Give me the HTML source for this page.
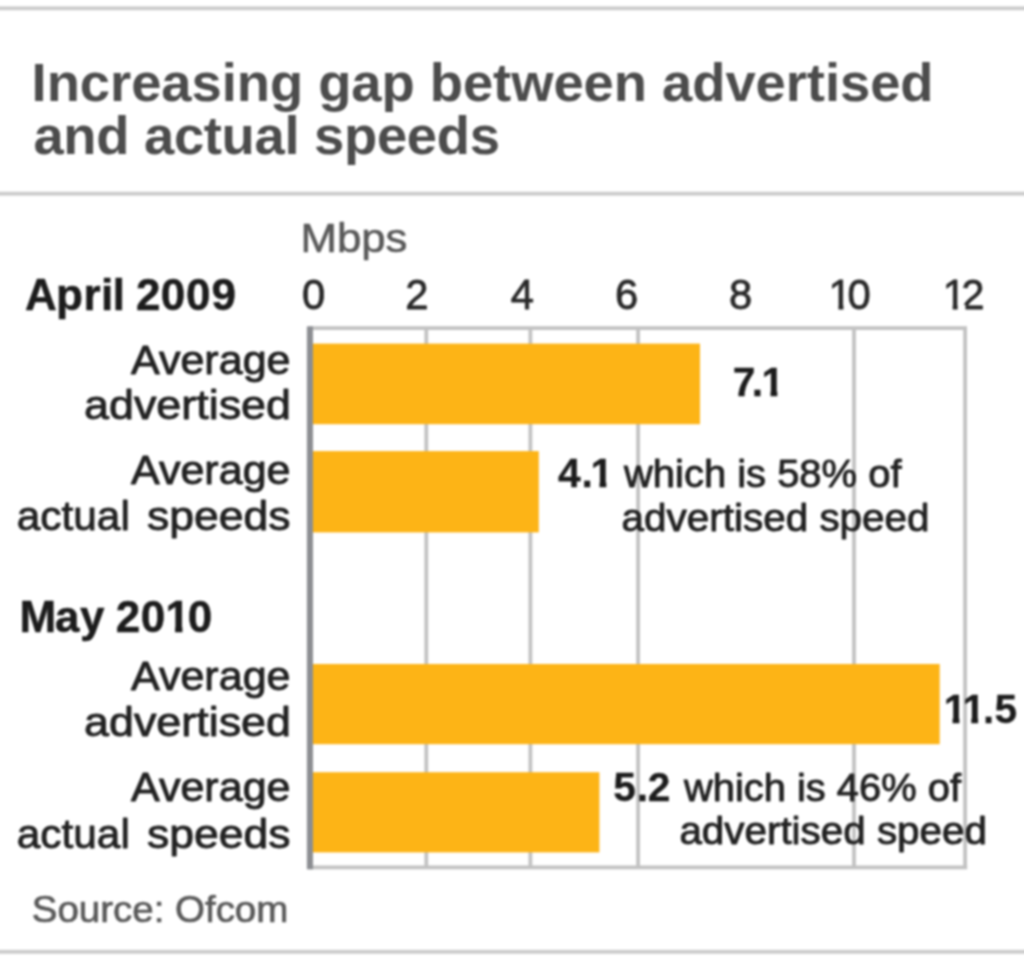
<!DOCTYPE html>
<html>
<head>
<meta charset="utf-8">
<title>Increasing gap between advertised and actual speeds</title>
<style>
html,body{margin:0;padding:0;background:#fff;}
body{width:1024px;height:960px;overflow:hidden;position:relative;}
svg{position:absolute;left:-40px;top:-40px;display:block;filter:blur(1.3px);}
text{font-family:"Liberation Sans",Arial,Helvetica,sans-serif;paint-order:stroke;stroke-linejoin:round;}
.t{font-weight:bold;font-size:54.4px;fill:#4c4c4c;stroke:none;}
.m{font-size:40.8px;fill:#595959;stroke:#595959;stroke-width:0.6px;}
.s{font-size:36.3px;fill:#595959;stroke:#595959;stroke-width:0.7px;}
.n{font-size:41.8px;fill:#282828;stroke:#282828;stroke-width:0.8px;}
.l{font-size:40.6px;fill:#222;stroke:#222;stroke-width:0.9px;}
.a{font-size:38.8px;fill:#222;stroke:#222;stroke-width:0.9px;}
.b{font-size:44px;font-weight:bold;fill:#1c1c1c;stroke:#1c1c1c;stroke-width:0.5px;}
.ab{font-size:40.8px;font-weight:bold;fill:#1c1c1c;stroke:#1c1c1c;stroke-width:0.3px;}
</style>
</head>
<body>
<svg width="1104" height="1040" viewBox="-40 -40 1104 1040">
<defs>
<clipPath id="c1"><rect x="9.5" y="584" width="232.2" height="42.6"/><rect x="9.5" y="626.1" width="157.2" height="17.6"/><rect x="175.1" y="626.1" width="7.3" height="17.6"/><rect x="190.1" y="626.1" width="51.5" height="17.6"/></clipPath>
<clipPath id="c2"><rect x="722.7" y="351.3" width="89.7" height="39.4"/><rect x="722.7" y="390.2" width="39.9" height="16.3"/><rect x="770.5" y="390.2" width="6.8" height="16.3"/><rect x="784.6" y="390.2" width="27.8" height="16.3"/></clipPath>
<clipPath id="c3"><rect x="548.1" y="442.1" width="423.3" height="39.4"/><rect x="548.1" y="481" width="43.6" height="16.3"/><rect x="599.5" y="481" width="6.8" height="16.3"/><rect x="613.6" y="481" width="357.8" height="16.3"/></clipPath>
<clipPath id="c4"><rect x="933.7" y="677.9" width="111.7" height="39.4"/><rect x="933.7" y="716.8" width="11.1" height="16.3"/><rect x="952.6" y="716.8" width="6.8" height="16.3"/><rect x="971.3" y="716.8" width="6.8" height="16.3"/><rect x="985.5" y="716.8" width="59.9" height="16.3"/></clipPath>
<clipPath id="c5"><rect x="818.6" y="263.3" width="80.5" height="41.5"/><rect x="818.6" y="304.4" width="11.7" height="16.7"/><rect x="838.5" y="304.4" width="4.9" height="16.7"/><rect x="851.3" y="304.4" width="47.8" height="16.7"/></clipPath>
<clipPath id="c6"><rect x="932.8" y="263.3" width="80.3" height="41.5"/><rect x="932.8" y="304.4" width="11.7" height="16.7"/><rect x="952.7" y="304.4" width="4.9" height="16.7"/><rect x="965.5" y="304.4" width="47.6" height="16.7"/></clipPath>
</defs>
<rect x="-40" y="-40" width="1104" height="1040" fill="#fff"/>
<!-- horizontal rules -->
<rect x="-40" y="6.4" width="1104" height="3.8" fill="#cbcbcb"/>
<rect x="-40" y="191.8" width="1104" height="3.8" fill="#cbcbcb"/>
<rect x="-40" y="949.9" width="1104" height="3.8" fill="#cbcbcb"/>
<!-- title -->
<text class="t" x="31.6" y="100.5" textLength="902" lengthAdjust="spacing">Increasing gap between advertised</text>
<text class="t" x="33.4" y="154" textLength="466.5" lengthAdjust="spacing">and actual speeds</text>
<!-- chart frame and grid lines -->
<g fill="#c2c2c2">
<rect x="308" y="326.2" width="659" height="3.8"/>
<rect x="308" y="865.5" width="659.2" height="3.8"/>
<rect x="424.4" y="328" width="3.8" height="539"/>
<rect x="528.5" y="328" width="3.8" height="539"/>
<rect x="636.2" y="328" width="3.8" height="539"/>
<rect x="852.1" y="328" width="3.8" height="539"/>
<rect x="963.2" y="328" width="3.8" height="539"/>
</g>
<rect x="306.9" y="326.4" width="6.1" height="542.9" fill="#8c8e92"/>
<!-- bars -->
<g fill="#fdb416">
<rect x="313" y="343.6" width="387" height="80.6"/>
<rect x="313" y="451.1" width="225.8" height="81.3"/>
<rect x="313" y="664" width="626.7" height="80.2"/>
<rect x="313" y="772.2" width="286.4" height="80.2"/>
</g>
<!-- axis unit and tick labels -->
<text class="m" x="300.5" y="251.7" textLength="107" lengthAdjust="spacingAndGlyphs">Mbps</text>
<text class="n" x="302.1" y="309.3">0</text>
<text class="n" x="405.2" y="309.3">2</text>
<text class="n" x="510.8" y="309.3">4</text>
<text class="n" x="615.1" y="309.3">6</text>
<text class="n" x="729.1" y="309.3">8</text>
<text class="n" x="828.6 847.4" y="309.3" clip-path="url(#c5)">10</text>
<text class="n" x="942.8 961.3" y="309.3" clip-path="url(#c6)">12</text>
<!-- group 1 -->
<text class="b" x="24.9 56.1 83.6 100.9 112.7 124.9 136 160.8 186 211.6" y="309.6">April 2009</text>
<g class="l">
<text x="131" y="373.8" textLength="159.5" lengthAdjust="spacingAndGlyphs">Average</text>
<text x="84" y="419.4" textLength="207" lengthAdjust="spacingAndGlyphs">advertised</text>
<text x="131" y="484.2" textLength="159.5" lengthAdjust="spacingAndGlyphs">Average</text>
<text y="529.6"><tspan x="16.8" textLength="113" lengthAdjust="spacingAndGlyphs">actual</tspan> <tspan x="147" textLength="143.5" lengthAdjust="spacingAndGlyphs">speeds</tspan></text>
</g>
<!-- group 2 -->
<text class="b" x="19.5 55 80 104.5 115.7 140.8 165.4 187.7" y="632.4" clip-path="url(#c1)">May 2010</text>
<g class="l">
<text x="131" y="690" textLength="159.5" lengthAdjust="spacingAndGlyphs">Average</text>
<text x="84" y="736.3" textLength="207" lengthAdjust="spacingAndGlyphs">advertised</text>
<text x="131" y="801.4" textLength="159.5" lengthAdjust="spacingAndGlyphs">Average</text>
<text y="848.3"><tspan x="16.8" textLength="113" lengthAdjust="spacingAndGlyphs">actual</tspan> <tspan x="147" textLength="143.5" lengthAdjust="spacingAndGlyphs">speeds</tspan></text>
</g>
<!-- value labels -->
<text class="ab" x="732.7 751.8 761.6" y="396.2" clip-path="url(#c2)">7.1</text>
<text clip-path="url(#c3)"><tspan class="ab" x="558.1 581.5 590.6" y="487">4.1</tspan> <tspan class="a" x="624" y="487.3" textLength="277.5" lengthAdjust="spacingAndGlyphs">which is 58% of</tspan></text>
<text class="a" x="621.6" y="531" textLength="308" lengthAdjust="spacingAndGlyphs">advertised speed</text>
<text class="ab" x="943.7 962.4 982.7 994.5" y="722.8" clip-path="url(#c4)">11.5</text>
<text><tspan class="ab" x="613.2 636.8 647.7" y="800.8">5.2</tspan> <tspan class="a" x="684" y="800.9" textLength="277" lengthAdjust="spacingAndGlyphs">which is 46% of</tspan></text>
<text class="a" x="679.4" y="844" textLength="307.5" lengthAdjust="spacingAndGlyphs">advertised speed</text>
<!-- source -->
<text class="s" x="31.8" y="921.8" textLength="256.5" lengthAdjust="spacingAndGlyphs">Source: Ofcom</text>
</svg>
</body>
</html>
